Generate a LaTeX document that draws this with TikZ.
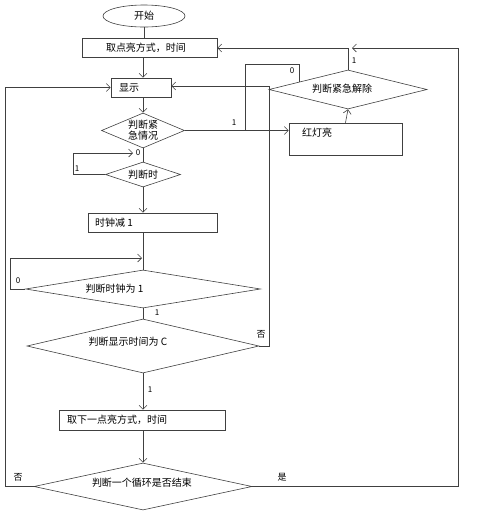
\documentclass[tikz,border=0pt]{standalone}
\usepackage{fontspec}
\newfontfamily\cjk{Noto Sans CJK SC}
\usetikzlibrary{shapes.geometric,arrows.meta,calc}
\tikzset{
  ln/.style={draw=black!75, line width=0.6pt},
  arr/.style={ln, -{Straight Barb[length=4pt,width=8pt]}},
  boxn/.style={ln, rectangle, inner sep=0pt},
  dia/.style={ln, diamond, inner sep=0pt},
  txt/.style={font=\cjk\fontsize{10}{12}\selectfont, inner sep=0pt},
  lab/.style={font=\cjk\fontsize{8}{9}\selectfont, inner sep=0pt},
}
\begin{document}
\begin{tikzpicture}[x=1pt,y=-1pt]
\useasboundingbox (0,0) rectangle (479,523);
% shapes
\node[ln, ellipse, minimum width=82pt, minimum height=22pt, inner sep=0pt, font=\cjk\fontsize{10}{12}\selectfont] (start) at (144,16) {开始};
\node[boxn, minimum width=135pt, minimum height=19pt] (b1) at (149.5,47.5) {};
\node[boxn, minimum width=60pt, minimum height=19pt] (disp) at (141,87.5) {};
\node[dia, minimum width=83pt, minimum height=35pt] (d1) at (143,130.5) {};
\node[dia, minimum width=75pt, minimum height=25pt] (d2) at (143,174.5) {};
\node[boxn, minimum width=129pt, minimum height=19pt] (b3) at (152.5,222.5) {};
\node[dia, minimum width=235pt, minimum height=38pt] (d3) at (143,289) {};
\node[dia, minimum width=232pt, minimum height=54pt] (d4) at (143,346) {};
\node[boxn, minimum width=166pt, minimum height=20pt] (b4) at (142,420) {};
\node[dia, minimum width=218pt, minimum height=47pt] (d5) at (143,486.5) {};
\node[boxn, minimum width=113pt, minimum height=32pt] (red) at (345.5,139) {};
\node[dia, minimum width=158pt, minimum height=39pt] (d6) at (348,89.5) {};
% texts
\node[txt] (t1) at (146,47.5) {取点亮方式，时间};
\node[txt, anchor=west] (t2) at (119,87.5) {显示};
\node[txt, align=center, font=\cjk\fontsize{10}{11}\selectfont] (t3) at (143,130.5) {判断紧\\急情况};
\node[txt] (t4) at (143,174.5) {判断时};
\node[txt, anchor=west] (t5) at (95,222.5) {时钟减 1};
\node[txt] (t6) at (114.5,289) {判断时钟为 1};
\node[txt] (t7) at (128,342) {判断显示时间为 C};
\node[txt, anchor=west] (t8) at (67,420) {取下一点亮方式，时间};
\node[txt] (t9) at (142,483) {判断一个循环是否结束};
\node[txt, anchor=west] (t10) at (302,133) {红灯亮};
\node[txt] (t11) at (342,89) {判断紧急解除};
% helper coordinates
\coordinate (spine) at (143,0);
\coordinate (c1) at (73,153);
\coordinate (c1e) at (133,153);
\coordinate (c2) at (10,258);
\coordinate (c2e) at (142,258);
\coordinate (lx) at (5,0);
\coordinate (rx) at (458,0);
\coordinate (top) at (0,48);
\coordinate (topE) at (352,48);
\coordinate (nx) at (269,86);
\coordinate (lp) at (245,64);
\coordinate (lpr) at ($(d6.west)!0.38!(d6.north)$);
% connectors
\draw[ln] (start.south) -- (start.south |- b1.north);
\draw[arr] (b1.south -| spine) -- (disp.north -| spine);
\draw[arr] (disp.south -| spine) -- (d1.north);
\draw[ln] (d1.south) -- (d2.north);
\draw[arr] (d2.west) -- (d2.west -| c1) -- (c1) -- (c1e);
\draw[arr] (d2.south) -- (b3.north -| d2.south);
\draw[ln] (b3.south -| d3.north) -- (d3.north);
\draw[arr] (d3.west) -- (d3.west -| c2) -- (c2) -- (c2e);
\draw[ln] (d3.south) -- (d4.north);
\draw[arr] (d4.south) -- (b4.north -| d4.south);
\draw[arr] (b4.south -| d5.north) -- (d5.north);
\draw[arr] (d5.west) -- (d5.west -| lx) -- (lx |- disp.west) -- (disp.west);
\draw[arr] (d5.east) -- (d5.east -| rx) -- (rx |- top) -- (topE);
\draw[arr] (d6.north) -- (d6.north |- top) -- (b1.east |- top);
\draw[arr] (d1.east) -- (d1.east -| red.west);
\draw[arr] (red.north) -- (d6.south);
\draw[ln] (lpr) -- (lpr |- lp) -- (lp) -- (lp |- d1.east);
\draw[arr] (d4.east) -- (d4.east -| nx) -- (nx) -- (nx -| disp.east);
% labels
\node[lab] (l1) at (138,153) {0};
\node[lab] (l2) at (77,169) {1};
\node[lab] (l3) at (18,281) {0};
\node[lab] (l4) at (157,313) {1};
\node[lab] (l5) at (150,390) {1};
\node[lab] (l6) at (234,123) {1};
\node[lab] (l7) at (354,61) {1};
\node[lab] (l8) at (292,71) {0};
\node[txt, font=\cjk\fontsize{9}{10}\selectfont] (l9) at (261,334) {否};
\node[txt, font=\cjk\fontsize{9}{10}\selectfont] (l10) at (18,477) {否};
\node[txt, font=\cjk\fontsize{9}{10}\selectfont] (l11) at (282,477) {是};
\end{tikzpicture}
\end{document}
